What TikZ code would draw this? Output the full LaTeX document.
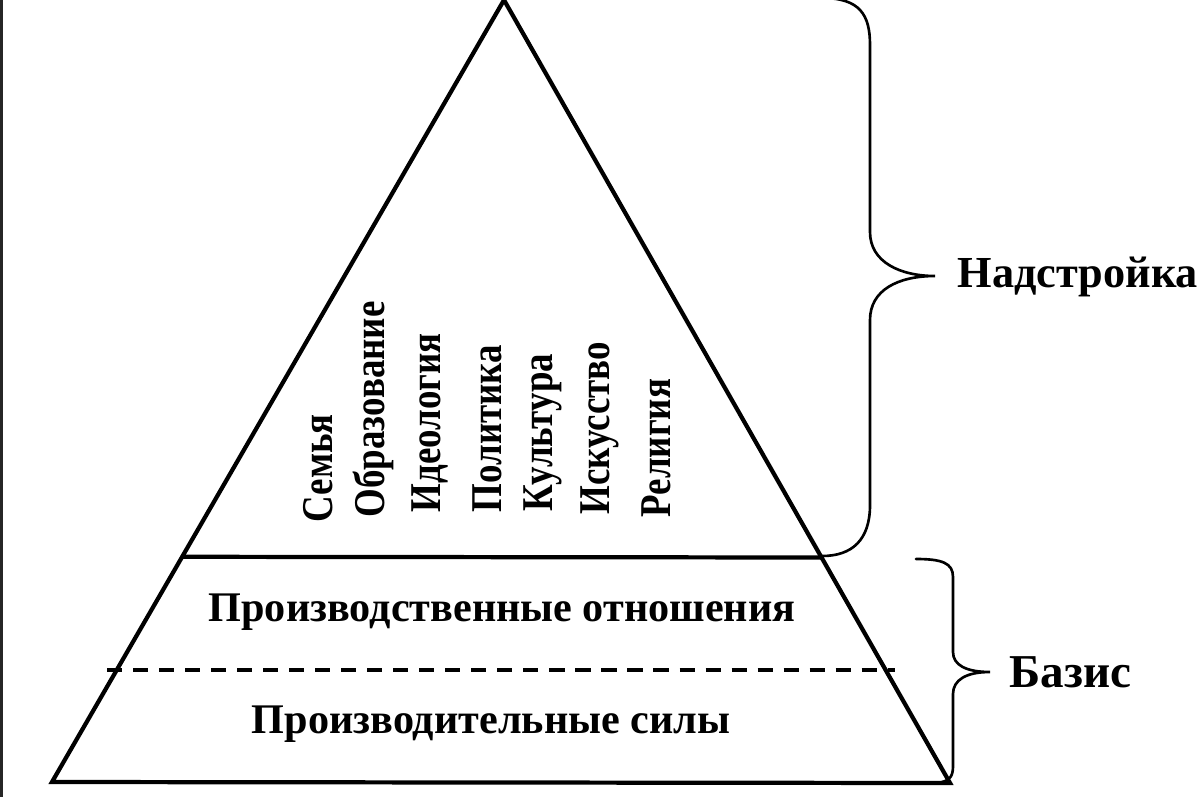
\documentclass[tikz,border=0pt]{standalone}
\usepackage{fontspec}
\setmainfont{Liberation Serif}
\usetikzlibrary{calc}
\tikzset{
  txt/.style={font=\bfseries\fontsize{12}{14}\selectfont,inner sep=0pt},
  vtxt/.style={txt,font=\bfseries\fontsize{12.5}{14}\selectfont,rotate=90,anchor=west},
  side/.style={txt,anchor=west,font=\bfseries\fontsize{12.6}{14}\selectfont},
  edge/.style={line width=1.2pt,line join=miter},
  brace/.style={line width=0.75pt,line cap=round}
}
\newcommand{\narrow}[1]{\scalebox{0.84}[1]{#1}}
\begin{document}
\begin{tikzpicture}[x=0.01cm,y=-0.01cm]
\useasboundingbox (0,0) rectangle (1200,797);
\fill[black!85] (0,0) rectangle (3,797);
% pyramid
\coordinate (A) at (504,0);
\coordinate (L) at (52,782);
\coordinate (R) at (950,783);
\coordinate (SL) at ($(A)!0.712!(L)$);
\coordinate (SR) at ($(A)!0.712!(R)$);
\coordinate (DL) at (107,670);
\coordinate (DR) at (895,670);
\draw[edge] (A) -- (L) -- (R) -- cycle;
\draw[edge] (SL) -- (SR);
\draw[line width=0.9pt,dash pattern=on 4.3pt off 3.1pt] (DL) -- (DR);
% superstructure
\node[vtxt] (fam) at (318,523) {\narrow{Семья}};
\node[vtxt] (edu) at (373,518) {\narrow{Образование}};
\node[vtxt] (ideo) at (430,513) {\narrow{Идеология}};
\node[vtxt] (pol) at (487,513) {\narrow{Политика}};
\node[vtxt] (cult) at (543,512) {\narrow{Культура}};
\node[vtxt] (art) at (600,515) {\narrow{Искусство}};
\node[vtxt] (rel) at (656,518) {\narrow{Религия}};
% basis
\node[txt] (rel2) at (502,612) {Производственные отношения};
\node[txt] (forces) at (491,724) {Производительные силы};
% braces
\coordinate (T1) at (935,276);
\coordinate (T2) at (990,672);
\draw[brace] (822,-2) .. controls (860,-2) and (870,15) .. (870,45) -- (870,232)
  .. controls (870,262) and (900,276) .. (T1)
  .. controls (898,276) and (870,290) .. (870,320) -- (870,505)
  .. controls (870,540) and (852,556) .. (822,556);
\draw[brace] (916,559) .. controls (942,559) and (953,563) .. (953,577) -- (953,652)
  .. controls (953,665) and (966,672) .. (T2)
  .. controls (966,672) and (953,680) .. (953,694) -- (953,766)
  .. controls (953,776) and (950,780) .. (942,782);
\node[side] (sup) at (957,277) {Надстройка};
\node[side,font=\bfseries\fontsize{13.4}{15}\selectfont] (base) at (1009,672) {Базис};
\end{tikzpicture}
\end{document}
